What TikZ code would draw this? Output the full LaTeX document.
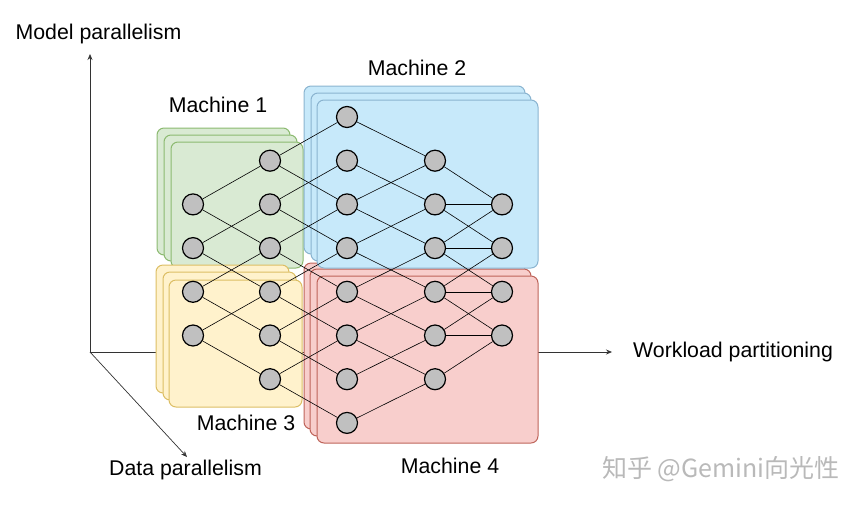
\documentclass[tikz,border=0pt]{standalone}
\usepackage{fontspec}
\setmainfont{Liberation Sans}
\newfontfamily\cjkfont{Noto Sans CJK SC}
\usetikzlibrary{arrows.meta}
\pgfdeclarelayer{boxes}
\pgfdeclarelayer{edges}
\pgfsetlayers{boxes,edges,main}
\definecolor{gfill}{RGB}{217,234,211}
\definecolor{gdraw}{RGB}{140,186,112}
\definecolor{yfill}{RGB}{255,242,204}
\definecolor{ydraw}{RGB}{220,190,100}
\definecolor{bfill}{RGB}{199,233,250}
\definecolor{bdraw}{RGB}{138,180,208}
\definecolor{rfill}{RGB}{248,206,204}
\definecolor{rdraw}{RGB}{190,100,90}
\definecolor{nfill}{RGB}{192,192,192}
\definecolor{wmark}{RGB}{185,185,185}
\begin{document}
\begin{tikzpicture}[x=1pt,y=-1pt,
  every node/.style={font=\fontsize{21.3}{25}\selectfont},
  neuron/.style={circle,draw=black,fill=nfill,line width=1.2pt,minimum size=21pt,inner sep=0pt},
  link/.style={draw=black,line width=0.6pt},
  axis/.style={draw=black!80,line width=0.7pt,-{Stealth[length=6pt,width=5pt]}},
  gbox/.style={draw=gdraw,fill=gfill,line width=1pt,rounded corners=7pt},
  ybox/.style={draw=ydraw,fill=yfill,line width=1pt,rounded corners=7pt},
  bbox/.style={draw=bdraw,fill=bfill,line width=1pt,rounded corners=7pt},
  rbox/.style={draw=rdraw,fill=rfill,line width=1pt,rounded corners=7pt},
  lbl/.style={text=black,inner sep=0pt}]
\useasboundingbox (0,0) rectangle (866,504);
\begin{pgfonlayer}{boxes}
% axes
\coordinate (o) at (90,352);
\coordinate (ytip) at (90,54);
\coordinate (xtip) at (612,352);
\coordinate (dtip) at (187,457);
\draw[axis] (o) -- (ytip);
\draw[axis] (o) -- (xtip);
\draw[axis] (o) -- (dtip);
% machine boxes
\path[gbox] (157,128) rectangle (290,255);
\path[gbox] (164,135) rectangle (297,261);
\path[gbox] (171,142) rectangle (303,268);
\path[ybox] (156,265) rectangle (289,393);
\path[ybox] (163,272) rectangle (296,400);
\path[ybox] (169,280) rectangle (302,407);
\path[rbox] (304,263) rectangle (525,429);
\path[rbox] (310,269) rectangle (531,436);
\path[rbox] (317,276) rectangle (538,443);
\path[bbox] (304,86) rectangle (525,254);
\path[bbox] (311,93) rectangle (531,261);
\path[bbox] (317,100) rectangle (538,268);
\end{pgfonlayer}
\node[lbl] (ml) at (98.5,34) {Model parallelism};
\node[lbl,anchor=west] (wl) at (633,352) {Workload partitioning};
\node[lbl] (dl) at (185.5,470) {Data parallelism};
\node[lbl] (m1) at (218,105) {Machine 1};
\node[lbl] (m2) at (417,68) {Machine 2};
\node[lbl] (m3) at (246,423) {Machine 3};
\node[lbl] (m4) at (450,466) {Machine 4};
% neurons
\foreach \c/\x/\a/\b in {1/193/2/5, 2/270/1/6, 3/347/0/7, 4/435/1/6, 5/502/2/5} {
  \foreach \r in {\a,...,\b}
    \node[neuron] (n\c-\r) at (\x,{117+43.7*\r}) {};
}
% links
\begin{pgfonlayer}{edges}
\foreach \r [evaluate=\r as \u using int(\r-1), evaluate=\r as \d using int(\r+1)] in {2,...,5} {
  \draw[link] (n1-\r) -- (n2-\u);
  \draw[link] (n1-\r) -- (n2-\d);
}
\foreach \r [evaluate=\r as \u using int(\r-1), evaluate=\r as \d using int(\r+1)] in {1,...,6} {
  \draw[link] (n2-\r) -- (n3-\u);
  \draw[link] (n2-\r) -- (n3-\d);
  \draw[link] (n4-\r) -- (n3-\u);
  \draw[link] (n4-\r) -- (n3-\d);
}
\foreach \r [evaluate=\r as \u using int(\r-1), evaluate=\r as \d using int(\r+1)] in {2,...,5} {
  \draw[link] (n5-\r) -- (n4-\u);
  \draw[link] (n5-\r) -- (n4-\r);
  \draw[link] (n5-\r) -- (n4-\d);
}
\end{pgfonlayer}
% watermark
\node[lbl,text=wmark,font=\cjkfont\fontsize{25}{28}\selectfont] (wm) at (721,469) {知乎 @Gemini向光性};
\end{tikzpicture}
\end{document}
